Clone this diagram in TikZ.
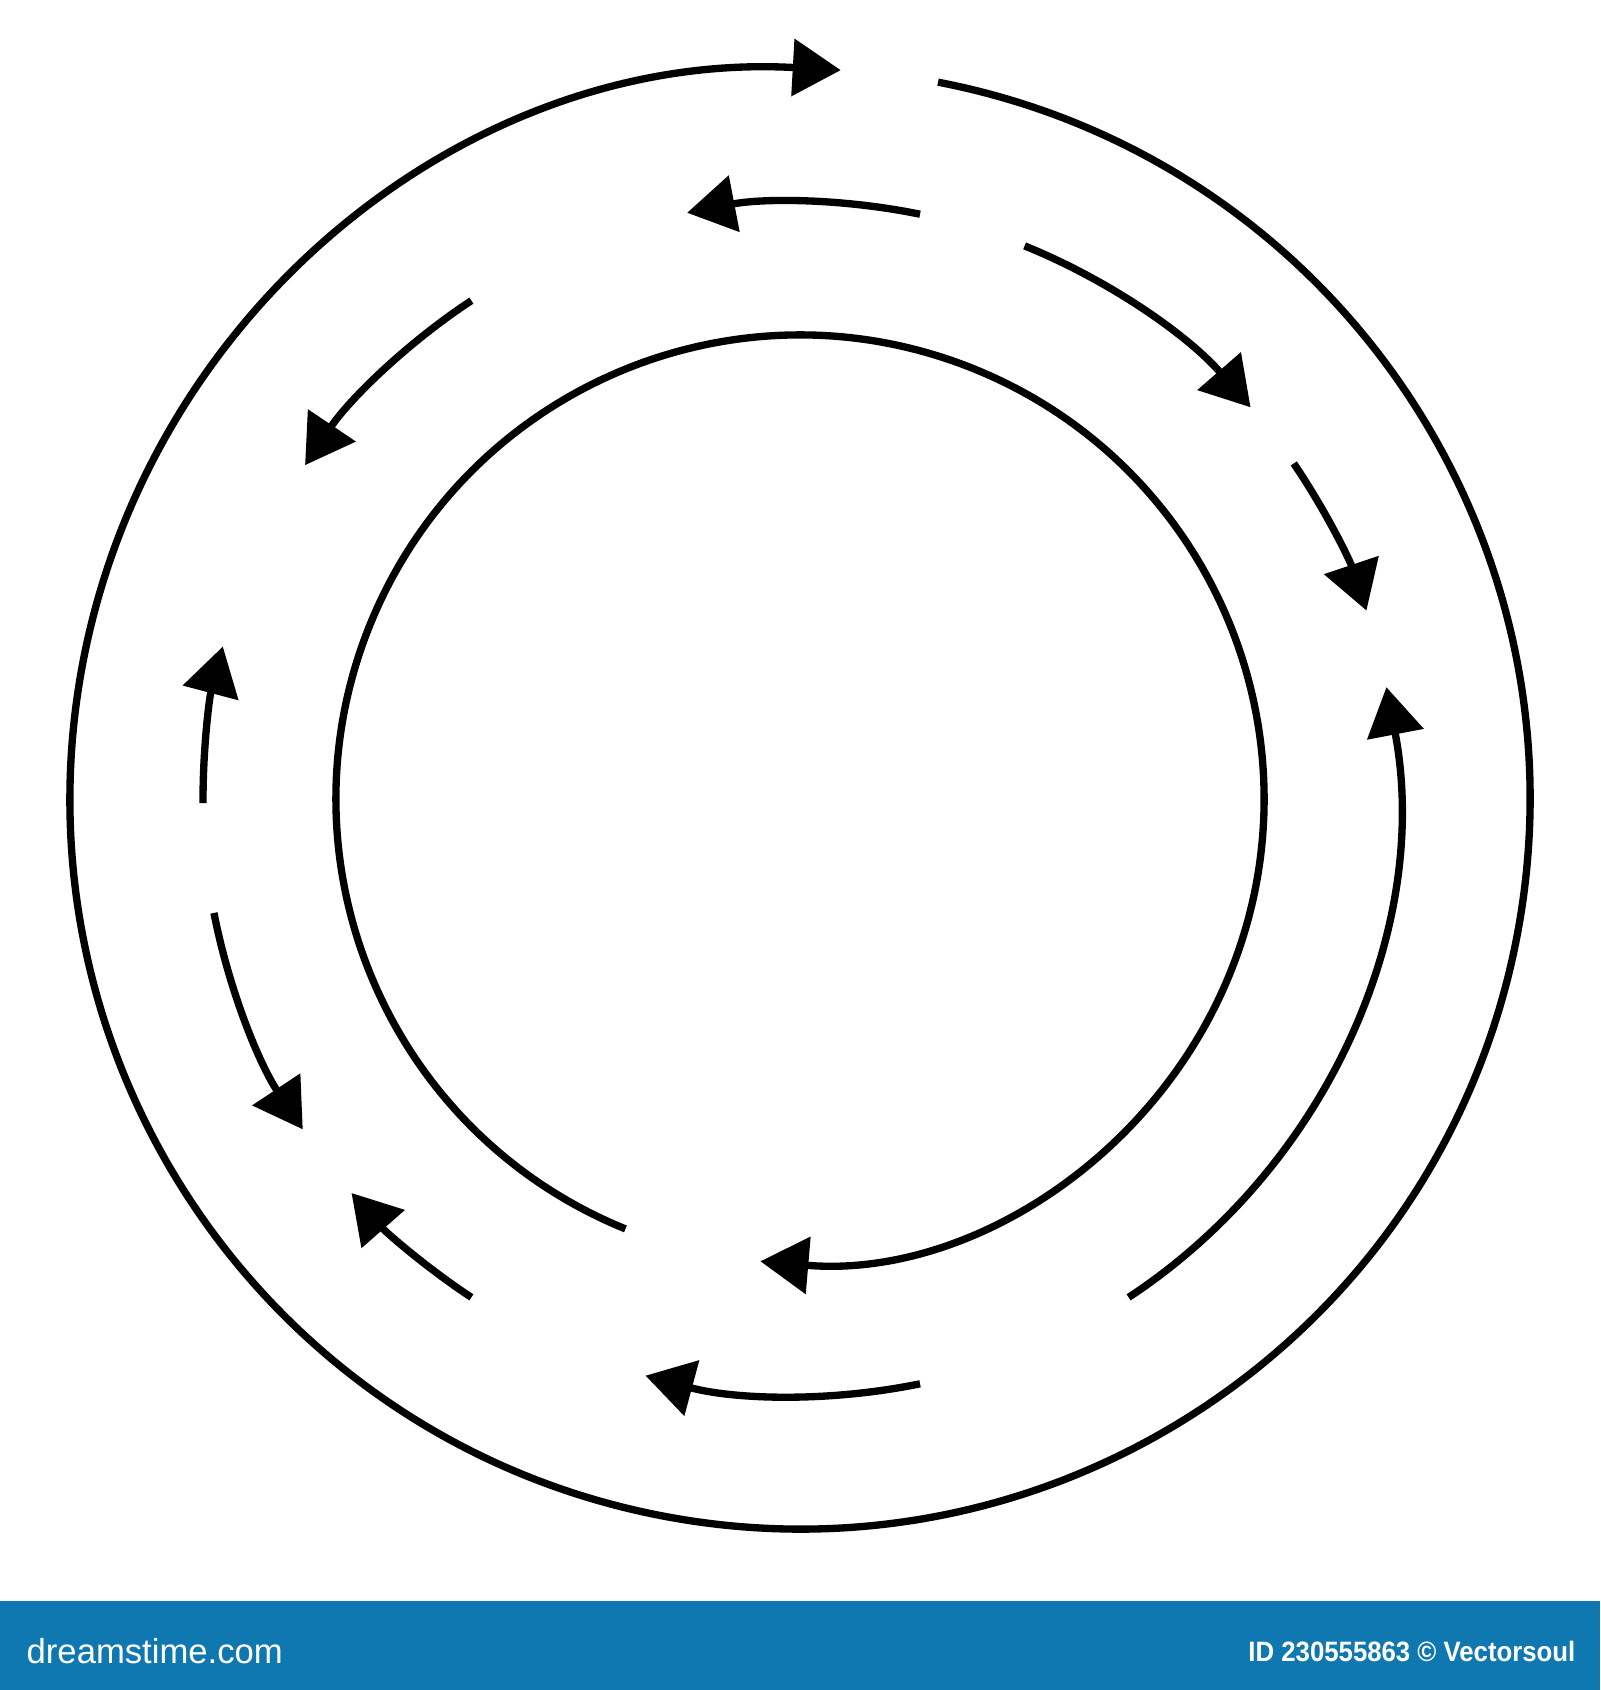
\documentclass[tikz,border=0pt]{standalone}
\usepackage{fontspec}
\setmainfont{Liberation Sans}
\usetikzlibrary{arrows.meta}

\definecolor{dtblue}{RGB}{16,120,176}
\tikzset{every picture/.style={line width=5.5pt}}
\tikzset{ringarrow/.style={-{Triangle[length=36pt,width=42pt]}}}

\begin{document}
\begin{tikzpicture}[x=0.75pt,y=0.75pt,yscale=-1,xscale=1]
%set diagram: 1600 x 1690
\useasboundingbox (0,0) rectangle (1600,1690);

%Outer ring
\draw [ringarrow, shift={(800,799)}] (-79.1:730) arc[start angle=-79.1, end angle=273.2, radius=730];
%Inner ring
\draw [ringarrow, shift={(800,799)}] (112.1:464) arc[start angle=112.1, end angle=454.9, radius=464];

%Curve Lines (middle ring)
\draw [ringarrow, shift={(800,799)}] (-78.4:597) arc[start angle=-78.4, end angle=-100.9, radius=597];
\draw [ringarrow, shift={(800,799)}] (-67.9:597) arc[start angle=-67.9, end angle=-41.0, radius=597];
\draw [ringarrow, shift={(800,799)}] (-34.2:597) arc[start angle=-34.2, end angle=-18.4, radius=597];
\draw [ringarrow, shift={(800,799)}] (56.6:597) arc[start angle=56.6, end angle=-10.8, radius=597];
\draw [ringarrow, shift={(800,799)}] (78.4:597) arc[start angle=78.4, end angle=105.0, radius=597];
\draw [ringarrow, shift={(800,799)}] (123.4:597) arc[start angle=123.4, end angle=138.7, radius=597];
\draw [ringarrow, shift={(800,799)}] (169.0:597) arc[start angle=169.0, end angle=146.4, radius=597];
\draw [ringarrow, shift={(800,799)}] (179.6:597) arc[start angle=179.6, end angle=194.8, radius=597];
\draw [ringarrow, shift={(800,799)}] (-123.4:597) arc[start angle=-123.4, end angle=-146.0, radius=597];

%Shape: Rectangle (footer bar)
\fill [dtblue] (0,1601) rectangle (1600,1690);

% Text Node
\node [anchor=west, text=white, inner sep=0.75pt, font=\fontsize{26}{30}\selectfont] (logo) at (22,1651) {dreamstime.com};
% Text Node
\node [anchor=east, text=white, inner sep=0.75pt, font=\bfseries\fontsize{21}{25}\selectfont] (imgid) at (1580,1651) {\scalebox{0.92}[1]{ID 230555863 © Vectorsoul}};

\end{tikzpicture}
\end{document}
